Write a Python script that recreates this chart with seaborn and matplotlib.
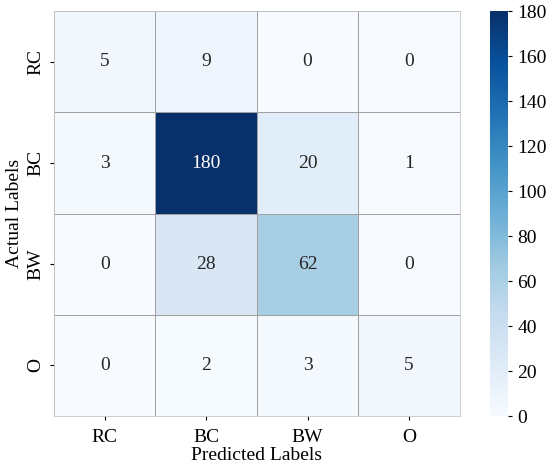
import numpy as np
import pandas as pd
import matplotlib
matplotlib.use("Agg")
import matplotlib.pyplot as plt
import seaborn as sns

labels = ["RC", "BC", "BW", "O"]
row_RC = [5, 9, 0, 0]
row_BC = [3, 180, 20, 1]
row_BW = [0, 28, 62, 0]
row_O = [0, 2, 3, 5]

cm = pd.DataFrame([row_RC, row_BC, row_BW, row_O], index=labels, columns=labels)

sns.set_theme(style="white", rc={"text.color": "black", "axes.labelcolor": "black",
                                 "xtick.color": "black", "ytick.color": "black"})
plt.rcParams['font.family'] = ['Liberation Serif', 'DejaVu Serif']

fig = plt.figure(figsize=(5.5, 4.67), dpi=100)
ax = fig.add_axes([0.098, 0.109, 0.738, 0.867])
cax = fig.add_axes([0.890, 0.109, 0.034, 0.867])

sns.heatmap(cm, annot=True, fmt="d", cmap="Blues", vmin=0, vmax=180,
            linewidths=0.5, linecolor="#a0a0a0", ax=ax, cbar_ax=cax,
            annot_kws={"fontsize": 14})

for sp in ax.spines.values():
    sp.set_visible(True)
    sp.set_color("#c8c8c8")
    sp.set_linewidth(0.6)

ax.set_xlabel("Predicted Labels", fontsize=14, labelpad=1)
ax.set_ylabel("Actual Labels", fontsize=14, labelpad=3)
ax.tick_params(axis="x", labelsize=14, length=3, width=0.8, colors="black", bottom=True, pad=6)
ax.tick_params(axis="y", labelsize=14, length=3, width=0.8, colors="black", left=True, pad=4)
ax.set_yticklabels(labels, rotation=90, va="center")
ax.set_xticklabels(labels, rotation=0)

cax.set_yticks(range(0, 181, 20))
cax.tick_params(labelsize=14, length=3, width=0.8, right=True, colors="black")
for sp in cax.spines.values():
    sp.set_visible(False)

fig.savefig("out.png", dpi=100)
